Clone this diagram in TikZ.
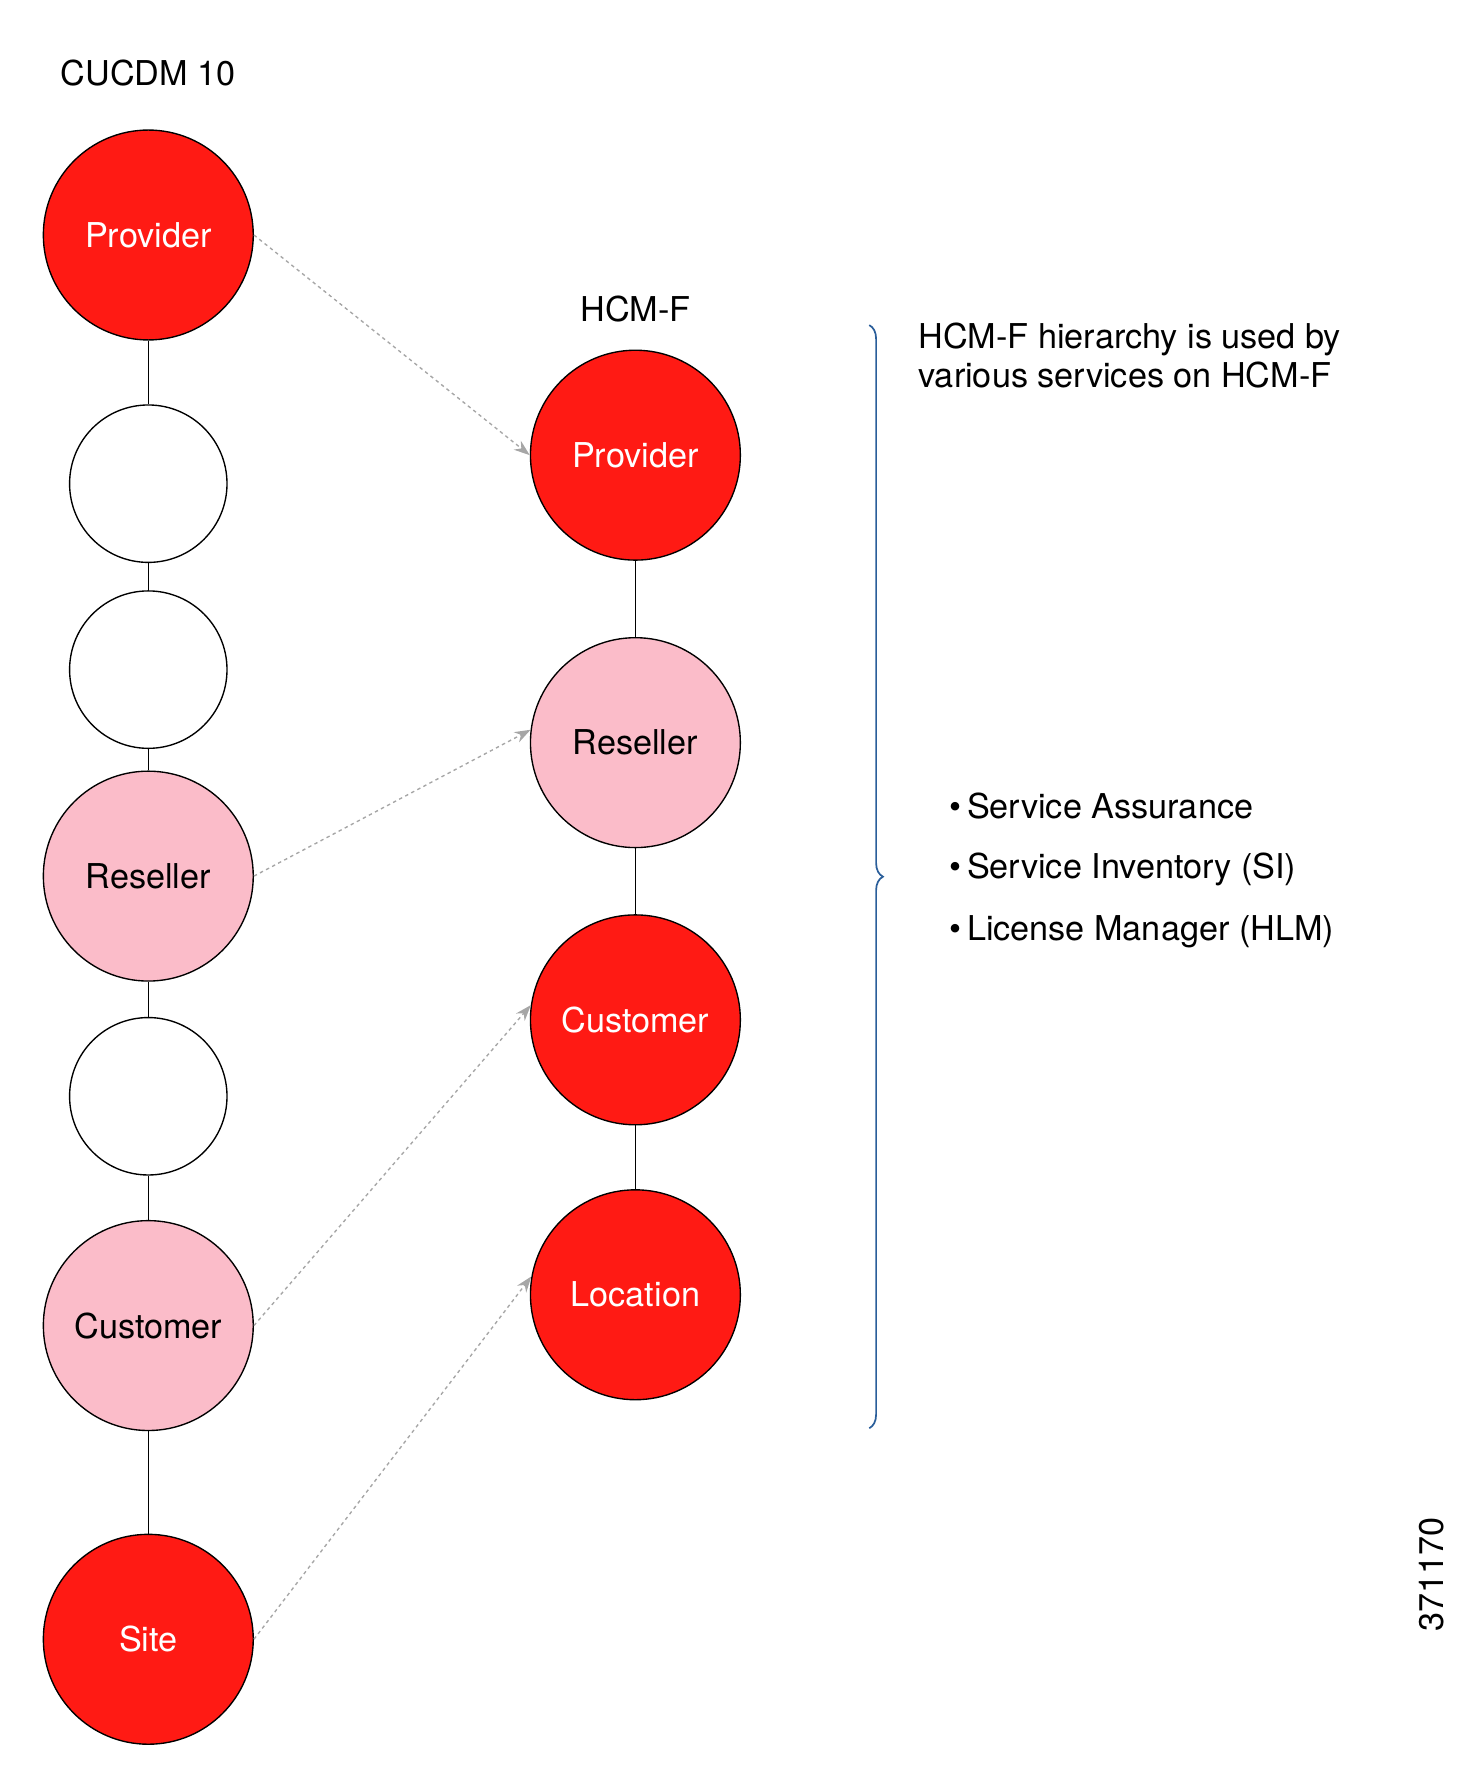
\documentclass[tikz,border=0pt]{standalone}
\usepackage{fontspec}
\setmainfont{TeX Gyre Heros}
\usetikzlibrary{decorations.pathreplacing,arrows.meta}
\definecolor{cred}{HTML}{FF1A14}
\definecolor{cpink}{HTML}{FBBCC9}
\definecolor{cblue}{HTML}{2A5E9A}
\begin{document}
\begin{tikzpicture}[x=1pt,y=-1pt,
  font=\fontsize{30}{36}\selectfont,
  big/.style={circle,draw,line width=1.2pt,minimum size=184pt,inner sep=0pt},
  red/.style={big,fill=cred,text=white},
  pink/.style={big,fill=cpink},
  small/.style={circle,draw,line width=1.2pt,minimum size=138pt,fill=white},
  map/.style={dashed,gray!70,line width=1.2pt,-{Stealth[length=14pt,width=10pt]}},
  link/.style={line width=1.2pt}]
\useasboundingbox (0,0) rectangle (1300,1563);
\node (t1) at (130,64) {CUCDM 10};
\node (t2) at (557,271) {HCM-F};
\node[red] (L1) at (130,206) {Provider};
\node[small] (L2) at (130,424) {};
\node[small] (L3) at (130,587) {};
\node[pink] (L4) at (130,768) {Reseller};
\node[small] (L5) at (130,961) {};
\node[pink] (L6) at (130,1162) {Customer};
\node[red] (L7) at (130,1437) {Site};
\node[red] (R1) at (557,399) {Provider};
\node[pink] (R2) at (557,651) {Reseller};
\node[red] (R3) at (557,894) {Customer};
\node[red] (R4) at (557,1135) {Location};
\draw[link] (L1)--(L2) (L2)--(L3) (L3)--(L4) (L4)--(L5) (L5)--(L6) (L6)--(L7);
\draw[link] (R1)--(R2) (R2)--(R3) (R3)--(R4);
\draw[map] (L1.east) -- (R1.west);
\draw[map] (L4.east) -- (R2.173);
\draw[map] (L6.east) -- (R3.172);
\draw[map] (L7.east) -- (R4.170);
\coordinate (b1) at (762,285);
\coordinate (b2) at (762,1252);
\draw[cblue,line width=1.5pt,decorate,decoration={brace,amplitude=12pt}] (b1) -- (b2);
\node[anchor=north west,align=left,inner sep=0pt] (d) at (805,283) {HCM-F hierarchy is used by\\[-2pt]various services on HCM-F};
\node[anchor=west,inner sep=0pt] (s1) at (832,707) {\textbullet\,Service Assurance};
\node[anchor=west,inner sep=0pt] (s2) at (832,762) {\textbullet\,Service Inventory (SI)};
\node[anchor=west,inner sep=0pt] (s3) at (832,817) {\textbullet\,License Manager (HLM)};
\node[rotate=90] (n) at (1255,1380) {371170};
\end{tikzpicture}
\end{document}
